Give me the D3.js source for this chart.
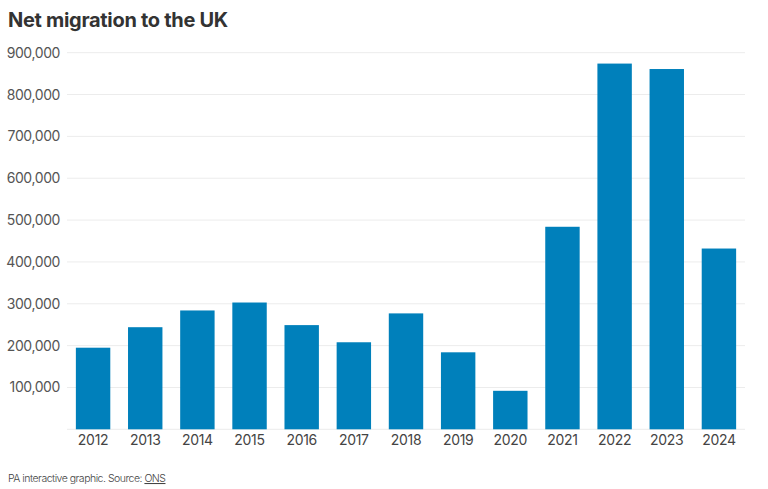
<!DOCTYPE html>
<html>
<head>
<meta charset="utf-8">
<script src="https://cdn.jsdelivr.net/npm/d3@7"></script>
<style>
  html, body { margin: 0; padding: 0; background: #fff; }
  svg { display: block; }
</style>
</head>
<body>
<svg id="chart" width="768" height="489"></svg>
<script>
const years = ["2012","2013","2014","2015","2016","2017","2018","2019","2020","2021","2022","2023","2024"];
const netMigration = [195000, 244000, 284000, 303000, 249000, 208000, 277000, 184000, 92000, 484000, 874000, 861000, 432000];
const yTicks = [100000, 200000, 300000, 400000, 500000, 600000, 700000, 800000, 900000];
const titleText = "Net migration to the UK";
const footerText = "PA interactive graphic. Source: ";
const sourceText = "ONS";

const svg = d3.select("#chart");
const font = "Inter, 'Helvetica Neue', Arial, sans-serif";

const x = d3.scaleBand().domain(years).range([67, 745]).paddingInner(0.34).paddingOuter(0.17);
const y = d3.scaleLinear().domain([0, 900000]).range([429.3, 52.7]);

// title
svg.append("text")
  .attr("x", 8).attr("y", 27)
  .attr("font-family", font).attr("font-weight", 700)
  .attr("font-size", 20).attr("letter-spacing", -0.3)
  .attr("fill", "#333")
  .text(titleText);

// grid
svg.append("g").selectAll("line")
  .data([0].concat(yTicks)).join("line")
  .attr("x1", 67).attr("x2", 745)
  .attr("y1", d => y(d)).attr("y2", d => y(d))
  .attr("stroke", "#ececec").attr("stroke-width", 1);

// y axis
const yAxis = d3.axisLeft(y).tickValues(yTicks).tickSize(0).tickPadding(0)
  .tickFormat(d3.format(","));
const gy = svg.append("g").attr("transform", "translate(60,0)").call(yAxis);
gy.select(".domain").remove();
gy.selectAll("text").attr("font-family", font).attr("font-size", 14)
  .attr("fill", "#555").attr("letter-spacing", -0.4);

// bars
svg.append("g").selectAll("rect")
  .data(years.map((yr, i) => ({ yr, v: netMigration[i] }))).join("rect")
  .attr("x", d => x(d.yr)).attr("width", x.bandwidth())
  .attr("y", d => y(d.v)).attr("height", d => y(0) - y(d.v))
  .attr("fill", "#0080bb");

// x axis
const xAxis = d3.axisBottom(x).tickSize(0).tickPadding(0);
const gx = svg.append("g").attr("transform", "translate(0,435)").call(xAxis);
gx.select(".domain").remove();
gx.selectAll("text").attr("font-family", font).attr("font-size", 14)
  .attr("fill", "#444").attr("letter-spacing", -0.3).attr("dy", "0.71em");

// footer
const ft = svg.append("text")
  .attr("x", 8).attr("y", 482)
  .attr("font-family", font).attr("font-size", 10.5).attr("font-weight", 300)
  .attr("fill", "#444").attr("letter-spacing", -0.5);
ft.append("tspan").text(footerText);
ft.append("tspan").attr("text-decoration", "underline").text(sourceText);
</script>
</body>
</html>
